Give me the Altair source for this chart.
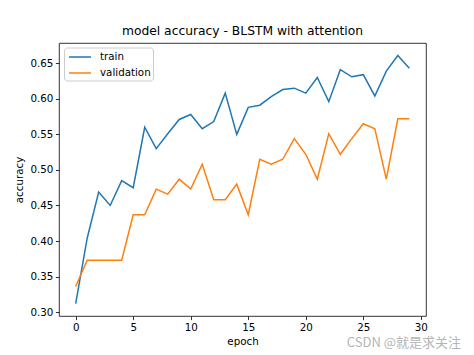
import altair as alt
import pandas as pd

epochs = list(range(30))
train_acc = [0.312, 0.404, 0.469, 0.450, 0.485, 0.475, 0.560, 0.530, 0.551, 0.571,
             0.578, 0.558, 0.568, 0.608, 0.550, 0.588, 0.591, 0.603, 0.613, 0.615,
             0.608, 0.630, 0.596, 0.641, 0.631, 0.634, 0.604, 0.639, 0.661, 0.643]
val_acc = [0.336, 0.373, 0.373, 0.373, 0.373, 0.437, 0.437, 0.473, 0.466, 0.487,
           0.473, 0.508, 0.458, 0.458, 0.480, 0.437, 0.515, 0.508, 0.515, 0.544,
           0.522, 0.487, 0.551, 0.522, 0.544, 0.565, 0.558, 0.487, 0.572, 0.572]
series_names = ["train", "validation"]
series_colors = ["#1f77b4", "#ff7f0e"]
x_ticks = [0, 5, 10, 15, 20, 25, 30]
y_ticks = [0.30, 0.35, 0.40, 0.45, 0.50, 0.55, 0.60, 0.65]
watermark = ["CSDN @就是求关注"]

df = pd.DataFrame({
    "epoch": epochs * 2,
    "accuracy": train_acc + val_acc,
    "series": [series_names[0]] * len(train_acc) + [series_names[1]] * len(val_acc),
})

FONT = "DejaVu Sans"

lines = alt.Chart(df).mark_line(strokeWidth=1.5).encode(
    x=alt.X("epoch:Q",
            scale=alt.Scale(domain=[-1.45, 30.45], nice=False, zero=False),
            axis=alt.Axis(values=x_ticks, title="epoch", grid=False, domain=False,
                          tickSize=3.6, tickWidth=0.8, tickColor="black",
                          labelColor="black", labelFontSize=10.3, labelFont=FONT,
                          labelPadding=2.5, titleFont=FONT, titleFontSize=10.3,
                          titleFontWeight="normal", titleColor="black", titlePadding=4)),
    y=alt.Y("accuracy:Q",
            scale=alt.Scale(domain=[0.2946, 0.6785], nice=False, zero=False),
            axis=alt.Axis(values=y_ticks, format=".2f", title="accuracy", grid=False, domain=False,
                          tickSize=3.6, tickWidth=0.8, tickColor="black",
                          labelColor="black", labelFontSize=10.3, labelFont=FONT,
                          labelPadding=2.5, titleFont=FONT, titleFontSize=10.3,
                          titleFontWeight="normal", titleColor="black", titlePadding=5)),
    color=alt.Color("series:N",
                    scale=alt.Scale(domain=series_names, range=series_colors),
                    legend=alt.Legend(title=None, orient="none", legendX=5, legendY=4.5,
                                      symbolType="M-0.64,0H2.5", symbolSize=196,
                                      symbolStrokeWidth=1.5, symbolFillColor="transparent",
                                      labelFontSize=10.3, labelFont=FONT, labelColor="black",
                                      labelOffset=18.5, padding=1.5, rowPadding=2,
                                      strokeColor="#cccccc", fillColor="white", cornerRadius=3)),
)

wm_df = pd.DataFrame({"label": watermark})
wm = alt.Chart(wm_df).mark_text(align="right", baseline="middle", fontSize=13,
                                font="Noto Sans CJK SC", color="#b4b4b4").encode(
    text="label:N", x=alt.value(402), y=alt.value(299.5))

chart = alt.layer(lines, wm).properties(
    width=367, height=273,
    title=alt.TitleParams("model accuracy - BLSTM with attention", font=FONT, fontSize=12.3,
                          fontWeight="normal", color="black", offset=6, anchor="middle"),
    autosize=alt.AutoSizeParams(type="none"),
    padding={"left": 51, "top": 35, "right": 40, "bottom": 38},
).configure_view(stroke="black", strokeWidth=0.8)

chart.save("out.html", embed_options={"renderer": "svg", "actions": False})
